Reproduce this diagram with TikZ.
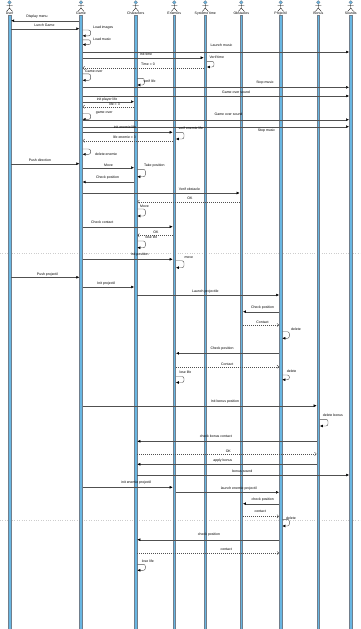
\documentclass[tikz,border=0pt]{standalone}
\usepackage{fontspec}
\setmainfont{Liberation Sans}
\usepackage{tikz}
\usetikzlibrary{arrows.meta}
\definecolor{lifeblue}{RGB}{104,182,226}
\definecolor{lifeedge}{RGB}{112,126,140}
\definecolor{msggray}{RGB}{80,80,80}
\definecolor{sepgray}{RGB}{205,205,205}
\tikzset{
  lifebar/.style={draw=lifeedge,fill=lifeblue,line width=0.5pt,minimum width=2.8pt,minimum height=614pt,inner sep=0pt},
  call/.style={draw=msggray,line width=0.4pt,-{Latex[length=3pt,width=2.8pt,color=black]}},
  reply/.style={draw=msggray,line width=0.4pt,dash pattern=on 1pt off 1pt,-{Straight Barb[length=1.8pt,width=3.4pt]}},
  selfcall/.style={call,rounded corners=2pt},
  lbl/.style={font=\fontsize{3.5}{4}\selectfont,inner sep=0pt},
}

\begin{document}
\begin{tikzpicture}[x=1pt,y=-1pt]
  \useasboundingbox (0,0) rectangle (360,629);
  \draw[sepgray,dotted,line width=0.4pt] (0,253.3) -- (360,253.3);
  \draw[sepgray,dotted,line width=0.4pt] (0,520) -- (360,520);
  \foreach \n/\x/\t in {user/9.5/User,game/81/Game,chars/135.7/Characters,enemies/174.3/Enemies,systime/205.3/Systeme time,obstacles/241.3/Obstacles,projectil/280.7/Projectil,bonus/318.3/Bonus,sounds/350.7/Sounds}{
    \node[lifebar] (\n) at (\x,322) {};
    \draw[black,line width=0.3pt] (\x,4.2) -- (\x,8) (\x-3,5.8) -- (\x+3,5.8) (\x-3,11.5) -- (\x,8) -- (\x+3,11.5);
    \draw[lifeedge,fill=lifeblue,line width=0.3pt] (\x,2.4) circle (1.8);
    \node[lbl] (\n-name) at (\x,13.4) {\t};
  }

  \draw[call] (game.west |- 0,20.7) -- (user.east |- 0,20.7);
  \node[lbl] at (37,16.4) {Display menu};
  \draw[call] (user.east |- 0,28.7) -- (game.west |- 0,28.7);
  \node[lbl] at (44.5,25) {Lunch Game};
  \draw[selfcall] (game.east |- 0,30) -- ++(8,0) -- ++(0,5.8) -- ++(-8,0);
  \node[lbl,anchor=west] at (93,28) {Load images};
  \draw[selfcall] (game.east |- 0,39.8) -- ++(8,0) -- ++(0,4.8) -- ++(-8,0);
  \node[lbl,anchor=west] at (93,39.3) {Load music};
  \draw[call] (game.east |- 0,52) -- (sounds.west |- 0,52);
  \node[lbl] at (221.5,45.3) {Launch music};
  \draw[call] (game.east |- 0,57.7) -- (systime.west |- 0,57.7);
  \node[lbl] at (146,54) {Init time};
  \draw[selfcall] (systime.east |- 0,61.3) -- ++(7,0) -- ++(0,5.7) -- ++(-7,0);
  \node[lbl,anchor=west] at (209.3,57.3) {Verif time};
  \draw[reply] (systime.west |- 0,68) -- (game.east |- 0,68);
  \node[lbl] at (148,64.3) {Time = 0};
  \draw[selfcall] (game.east |- 0,73.9) -- ++(8,0) -- ++(0,6.4) -- ++(-8,0);
  \node[lbl,anchor=west] at (85,71.4) {Game over};
  \draw[selfcall] (chars.east |- 0,78.3) -- ++(7,0) -- ++(0,6.7) -- ++(-7,0);
  \node[lbl,anchor=west] at (143.3,81.3) {verif life};
  \draw[call] (game.east |- 0,87.3) -- (sounds.west |- 0,87.3);
  \node[lbl] at (265,82.3) {Stop music};
  \draw[call] (game.east |- 0,96) -- (sounds.west |- 0,96);
  \node[lbl] at (236,92.3) {Game over sound};
  \draw[call] (game.east |- 0,101.7) -- (chars.west |- 0,101.7);
  \node[lbl] at (107,99.2) {init player life};
  \draw[reply] (chars.west |- 0,106.7) -- (game.east |- 0,106.7);
  \node[lbl] at (114.5,104) {life = 3};
  \draw[selfcall] (game.east |- 0,113.7) -- ++(8,0) -- ++(0,5.6) -- ++(-8,0);
  \node[lbl,anchor=west] at (95.7,112.7) {game over};
  \draw[call] (game.east |- 0,119.7) -- (sounds.west |- 0,119.7);
  \node[lbl] at (228.5,114.3) {Game over sound};
  \draw[call] (game.east |- 0,126.7) -- (sounds.west |- 0,126.7);
  \node[lbl] at (266.5,130.7) {Stop music};
  \draw[call] (game.east |- 0,132.3) -- (enemies.west |- 0,132.3);
  \node[lbl] at (125,127.7) {init enemie life};
  \draw[selfcall] (enemies.east |- 0,132.3) -- ++(8,0) -- ++(0,6.7) -- ++(-8,0);
  \node[lbl,anchor=west] at (178.3,128.3) {verif enemie life};
  \draw[reply] (enemies.west |- 0,140.7) -- (game.east |- 0,140.7);
  \node[lbl] at (124.5,137) {life enemie = 3};
  \draw[selfcall] (game.east |- 0,149) -- ++(8,0) -- ++(0,5.3) -- ++(-8,0);
  \node[lbl,anchor=west] at (95,154) {delete enemie};

  \draw[call] (user.east |- 0,163.7) -- (game.west |- 0,163.7);
  \node[lbl] at (40,160.3) {Push direction};
  \draw[call] (game.east |- 0,167.7) -- (chars.west |- 0,167.7);
  \node[lbl] at (108.5,165) {Move};
  \draw[selfcall] (chars.east |- 0,169.3) -- ++(8,0) -- ++(0,7.4) -- ++(-8,0);
  \node[lbl,anchor=west] at (144,165.7) {Take position};
  \draw[call] (chars.west |- 0,182) -- (game.east |- 0,182);
  \node[lbl] at (107.5,177.7) {Check position};
  \draw[call] (game.east |- 0,193) -- (obstacles.west |- 0,193);
  \node[lbl] at (189.5,189) {Verif obstacle};
  \draw[reply] (obstacles.west |- 0,201.7) -- (chars.east |- 0,201.7);
  \node[lbl] at (190,198) {OK};
  \draw[selfcall] (chars.east |- 0,209) -- ++(8,0) -- ++(0,7) -- ++(-8,0);
  \node[lbl,anchor=west] at (140,206.3) {Move};
  \draw[call] (game.east |- 0,226.7) -- (enemies.west |- 0,226.7);
  \node[lbl] at (102.3,222.3) {Check contact};
  \draw[reply] (enemies.west |- 0,235.3) -- (chars.east |- 0,235.3);
  \node[lbl] at (156,232) {OK};
  \draw[selfcall] (chars.east |- 0,241) -- ++(8,0) -- ++(0,6.7) -- ++(-8,0);
  \node[lbl,anchor=west] at (145.3,237.7) {lose life};

  \draw[call] (game.east |- 0,259.3) -- (enemies.west |- 0,259.3);
  \node[lbl] at (139.7,255) {Init position};
  \draw[selfcall] (enemies.east |- 0,260.7) -- ++(8,0) -- ++(0,7) -- ++(-8,0);
  \node[lbl,anchor=west] at (184.3,257.7) {move};
  \draw[call] (user.east |- 0,277.3) -- (game.west |- 0,277.3);
  \node[lbl] at (47.5,274.3) {Push projectil};
  \draw[call] (game.east |- 0,287) -- (chars.west |- 0,287);
  \node[lbl] at (106.3,283.7) {Init projectil};
  \draw[call] (chars.east |- 0,295) -- (projectil.west |- 0,295);
  \node[lbl] at (205.3,291.7) {Launch projectile};
  \draw[call] (projectil.west |- 0,311.7) -- (obstacles.east |- 0,311.7);
  \node[lbl] at (262.5,308) {Check position};
  \draw[reply] (obstacles.east |- 0,325) -- (projectil.west |- 0,325);
  \node[lbl] at (262.5,322) {Contact};
  \draw[selfcall] (projectil.east |- 0,331.7) -- ++(7,0) -- ++(0,6.6) -- ++(-7,0);
  \node[lbl,anchor=west] at (291,329.3) {delete};
  \draw[call] (projectil.west |- 0,353.3) -- (enemies.east |- 0,353.3);
  \node[lbl] at (222,349) {Check position};
  \draw[reply] (enemies.east |- 0,366.7) -- (projectil.west |- 0,366.7);
  \node[lbl] at (227.2,364.3) {Contact};
  \draw[selfcall] (enemies.east |- 0,376.5) -- ++(8,0) -- ++(0,6) -- ++(-8,0);
  \node[lbl,anchor=west] at (179.3,372.3) {lose life};
  \draw[selfcall] (projectil.east |- 0,375) -- ++(7,0) -- ++(0,4.7) -- ++(-7,0);
  \node[lbl,anchor=west] at (286.7,371.7) {delete};

  \draw[call] (game.east |- 0,405.7) -- (bonus.west |- 0,405.7);
  \node[lbl] at (225,401.7) {Init bonus position};
  \draw[selfcall] (bonus.east |- 0,419.3) -- ++(8,0) -- ++(0,6.7) -- ++(-8,0);
  \node[lbl,anchor=west] at (322.7,415.3) {delete bonus};
  \draw[call] (bonus.west |- 0,441.3) -- (chars.east |- 0,441.3);
  \node[lbl] at (215.8,436.3) {check bonus contact};
  \draw[reply] (chars.east |- 0,454) -- (bonus.west |- 0,454);
  \node[lbl] at (228.3,451.3) {OK};
  \draw[call] (bonus.west |- 0,464.3) -- (chars.east |- 0,464.3);
  \node[lbl] at (222.8,460.3) {apply bonus};
  \draw[call] (chars.east |- 0,475) -- (sounds.west |- 0,475);
  \node[lbl] at (242.3,471.3) {bonus sound};
  \draw[call] (game.east |- 0,487.3) -- (enemies.west |- 0,487.3);
  \node[lbl] at (136.3,482.7) {init enemie projectil};
  \draw[call] (enemies.east |- 0,492.3) -- (projectil.west |- 0,492.3);
  \node[lbl] at (238.8,488.3) {launch enemie projectil};
  \draw[call] (projectil.west |- 0,503.7) -- (obstacles.east |- 0,503.7);
  \node[lbl] at (262.8,500) {check position};
  \draw[reply] (obstacles.east |- 0,516.3) -- (projectil.west |- 0,516.3);
  \node[lbl] at (260.2,511.7) {contact};
  \draw[selfcall] (projectil.east |- 0,519.3) -- ++(7,0) -- ++(0,6.7) -- ++(-7,0);
  \node[lbl,anchor=west] at (286,518.3) {delete};

  \draw[call] (projectil.west |- 0,539.7) -- (chars.east |- 0,539.7);
  \node[lbl] at (209,534.7) {check position};
  \draw[reply] (chars.east |- 0,553) -- (projectil.west |- 0,553);
  \node[lbl] at (226.2,549.3) {contact};
  \draw[selfcall] (chars.east |- 0,564.3) -- ++(8,0) -- ++(0,6) -- ++(-8,0);
  \node[lbl,anchor=west] at (141.7,561) {lose life};
\end{tikzpicture}
\end{document}
